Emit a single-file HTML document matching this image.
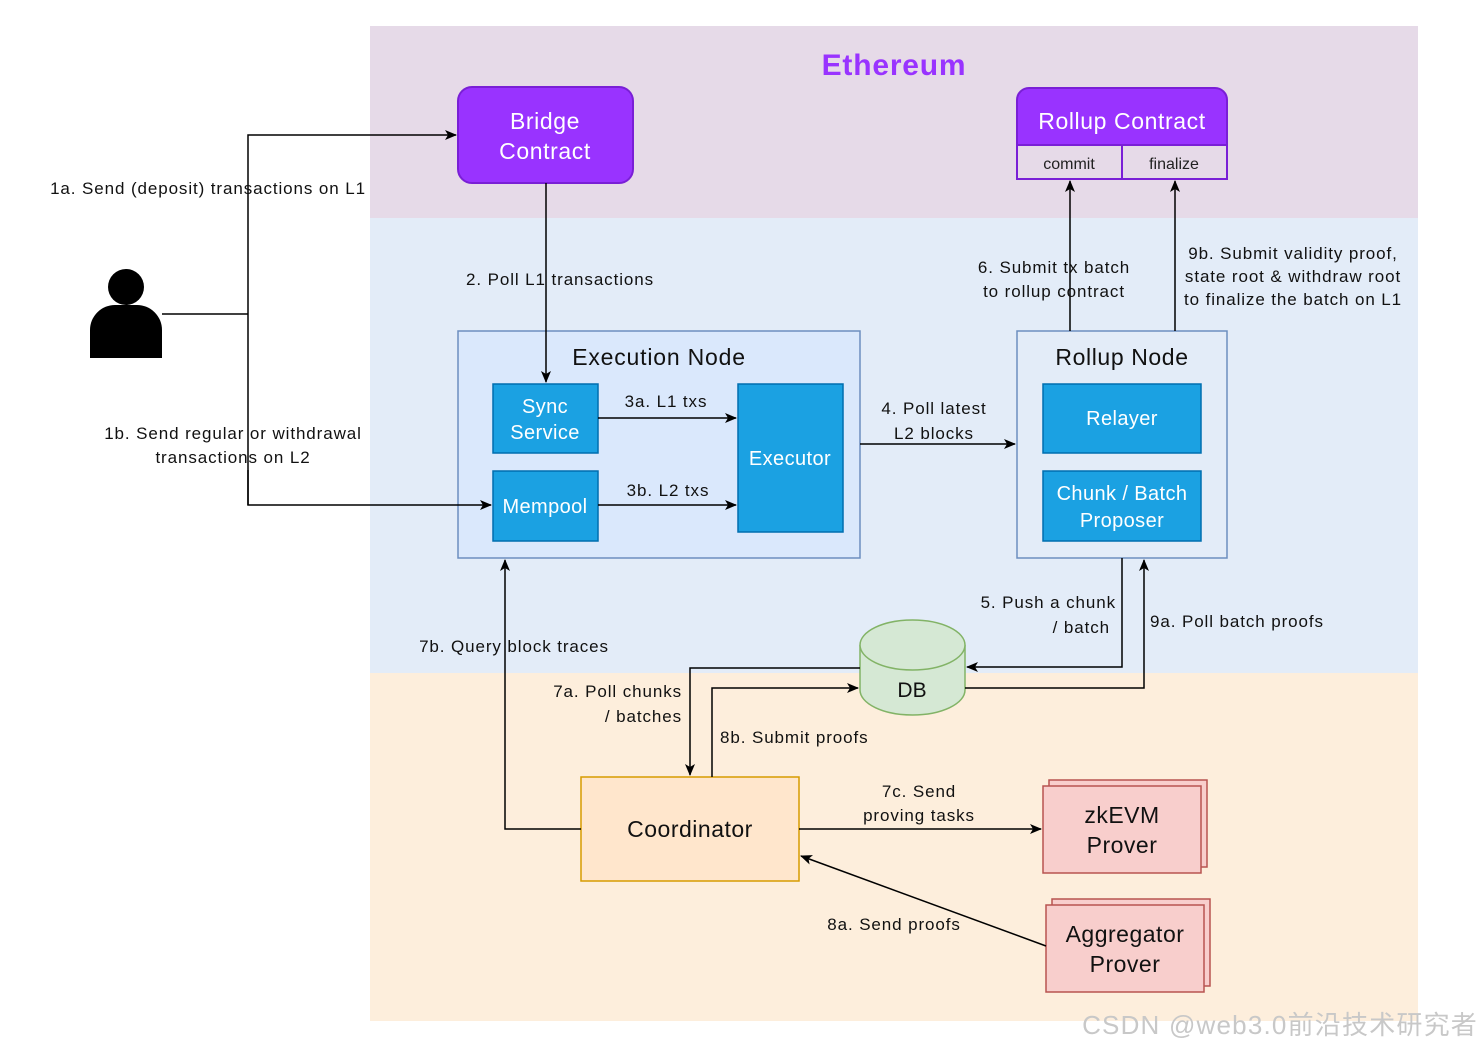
<!DOCTYPE html>
<html><head><meta charset="utf-8"><style>
html,body{margin:0;padding:0;background:#fff;}
svg{display:block;font-family:"Liberation Sans",Arial,sans-serif;}
</style></head><body>
<svg width="1482" height="1050" viewBox="0 0 1482 1050" xmlns="http://www.w3.org/2000/svg">
<defs>
<marker id="a" markerWidth="12" markerHeight="10" refX="11" refY="5" orient="auto" markerUnits="userSpaceOnUse">
<path d="M0,0 L12,5 L0,10 L3,5 Z" fill="#000"/></marker>
</defs>
<rect x="370" y="26" width="1048" height="192" fill="#e6dae8"/>
<rect x="370" y="218" width="1048" height="455" fill="#e3ecf8"/>
<rect x="370" y="673" width="1048" height="348" fill="#fdeedc"/>
<text x="894" y="75" font-size="30" font-weight="bold" fill="#9933ff" text-anchor="middle" letter-spacing="0.8">Ethereum</text>

<rect x="458" y="87" width="175" height="96" rx="14" fill="#9933ff" stroke="#7a1fd6" stroke-width="2"/>
<g letter-spacing="0.6">
<text x="545" y="129" font-size="23" fill="#fff" text-anchor="middle">Bridge</text>
<text x="545" y="159" font-size="23" fill="#fff" text-anchor="middle">Contract</text>
</g>

<path d="M1017,145 V100 a12,12 0 0 1 12,-12 H1215 a12,12 0 0 1 12,12 V145 Z" fill="#9933ff" stroke="#7a1fd6" stroke-width="2"/>
<rect x="1017" y="145" width="210" height="34" fill="#e6dae8" stroke="#7a1fd6" stroke-width="2"/>
<line x1="1122" y1="145" x2="1122" y2="179" stroke="#7a1fd6" stroke-width="2"/>
<text x="1122" y="129" font-size="23" fill="#fff" text-anchor="middle" letter-spacing="0.6">Rollup Contract</text>
<text x="1069" y="169" font-size="16" fill="#222" text-anchor="middle">commit</text>
<text x="1174" y="169" font-size="16" fill="#222" text-anchor="middle">finalize</text>

<rect x="458" y="331" width="402" height="227" fill="#dae8fc" stroke="#6c8ebf" stroke-width="1.5"/>
<text x="659" y="365" font-size="23" fill="#111" text-anchor="middle" letter-spacing="0.8">Execution Node</text>
<g fill="#1ba1e2" stroke="#006eaf" stroke-width="1.5">
<rect x="493" y="384" width="105" height="69"/>
<rect x="493" y="471" width="105" height="70"/>
<rect x="738" y="384" width="105" height="148"/>
<rect x="1043" y="384" width="158" height="69"/>
<rect x="1043" y="471" width="158" height="70"/>
</g>
<g font-size="20" fill="#fff" text-anchor="middle" letter-spacing="0.4">
<text x="545" y="413">Sync</text><text x="545" y="439">Service</text>
<text x="545" y="513">Mempool</text>
<text x="790" y="465">Executor</text>
<text x="1122" y="425">Relayer</text>
<text x="1122" y="500">Chunk / Batch</text><text x="1122" y="527">Proposer</text>
</g>
<rect x="1017" y="331" width="210" height="227" fill="none" stroke="#6c8ebf" stroke-width="1.5"/>
<text x="1122" y="365" font-size="23" fill="#111" text-anchor="middle" letter-spacing="0.6">Rollup Node</text>

<path d="M860,645 V690 a52.5,25 0 0 0 105,0 V645" fill="#d5e8d4" stroke="#82b366" stroke-width="1.5"/>
<ellipse cx="912.5" cy="645" rx="52.5" ry="25" fill="#d5e8d4" stroke="#82b366" stroke-width="1.5"/>
<text x="912" y="697" font-size="21" fill="#111" text-anchor="middle">DB</text>

<rect x="581" y="777" width="218" height="104" fill="#ffe6cc" stroke="#d79b00" stroke-width="1.5"/>
<text x="690" y="837" font-size="23" fill="#111" text-anchor="middle" letter-spacing="0.5">Coordinator</text>

<g fill="#f8cecc" stroke="#b85450" stroke-width="1.5">
<rect x="1049" y="780" width="158" height="87"/>
<rect x="1043" y="786" width="158" height="87"/>
<rect x="1052" y="899" width="158" height="87"/>
<rect x="1046" y="905" width="158" height="87"/>
</g>
<g font-size="23" fill="#111" text-anchor="middle" letter-spacing="0.5">
<text x="1122" y="823">zkEVM</text><text x="1122" y="853">Prover</text>
<text x="1125" y="942">Aggregator</text><text x="1125" y="972">Prover</text>
</g>

<circle cx="126" cy="287" r="18" fill="#000"/>
<path d="M90,358 V330 a25,25 0 0 1 25,-25 H137 a25,25 0 0 1 25,25 V358 Z" fill="#000"/>

<g stroke="#000" stroke-width="1.5" fill="none">
<path d="M162,314 H248"/>
<path d="M248,505 V135 H456" marker-end="url(#a)"/>
<path d="M248,470 V505 H491" marker-end="url(#a)"/>
<path d="M546,183 V382" marker-end="url(#a)"/>
<path d="M598,418 H736" marker-end="url(#a)"/>
<path d="M598,505 H736" marker-end="url(#a)"/>
<path d="M860,444 H1015" marker-end="url(#a)"/>
<path d="M1070,331 V181" marker-end="url(#a)"/>
<path d="M1175,331 V181" marker-end="url(#a)"/>
<path d="M1122,558 V667 H967" marker-end="url(#a)"/>
<path d="M965,688 H1144 V560" marker-end="url(#a)"/>
<path d="M581,829 H505 V560" marker-end="url(#a)"/>
<path d="M860,668 H690 V775" marker-end="url(#a)"/>
<path d="M712,777 V688 H858" marker-end="url(#a)"/>
<path d="M799,829 H1041" marker-end="url(#a)"/>
<path d="M1046,946 L801,856" marker-end="url(#a)"/>
</g>

<g font-size="17" fill="#111" letter-spacing="0.9">
<text x="208" y="194" text-anchor="middle">1a. Send (deposit) transactions on L1</text>
<text x="233" y="439" text-anchor="middle">1b. Send regular or withdrawal</text>
<text x="233" y="463" text-anchor="middle">transactions on L2</text>
<text x="560" y="285" text-anchor="middle">2. Poll L1 transactions</text>
<text x="666" y="407" text-anchor="middle">3a. L1 txs</text>
<text x="668" y="496" text-anchor="middle">3b. L2 txs</text>
<text x="934" y="414" text-anchor="middle">4. Poll latest</text>
<text x="934" y="439" text-anchor="middle">L2 blocks</text>
<text x="1054" y="273" text-anchor="middle">6. Submit tx batch</text>
<text x="1054" y="297" text-anchor="middle">to rollup contract</text>
<text x="1293" y="259" text-anchor="middle">9b. Submit validity proof,</text>
<text x="1293" y="282" text-anchor="middle">state root &amp; withdraw root</text>
<text x="1293" y="305" text-anchor="middle">to finalize the batch on L1</text>
<text x="1116" y="608" text-anchor="end">5. Push a chunk</text>
<text x="1110" y="633" text-anchor="end">/ batch</text>
<text x="1150" y="627">9a. Poll batch proofs</text>
<text x="514" y="652" text-anchor="middle">7b. Query block traces</text>
<text x="682" y="697" text-anchor="end">7a. Poll chunks</text>
<text x="682" y="722" text-anchor="end">/ batches</text>
<text x="720" y="743">8b. Submit proofs</text>
<text x="919" y="797" text-anchor="middle">7c. Send</text>
<text x="919" y="821" text-anchor="middle">proving tasks</text>
<text x="894" y="930" text-anchor="middle">8a. Send proofs</text>
</g>
<text x="1478" y="1034" font-size="26" fill="#c8c8c8" text-anchor="end" letter-spacing="1.2" font-family="Liberation Sans, Noto Sans CJK SC, sans-serif">CSDN @web3.0前沿技术研究者</text>
</svg>
</body></html>
